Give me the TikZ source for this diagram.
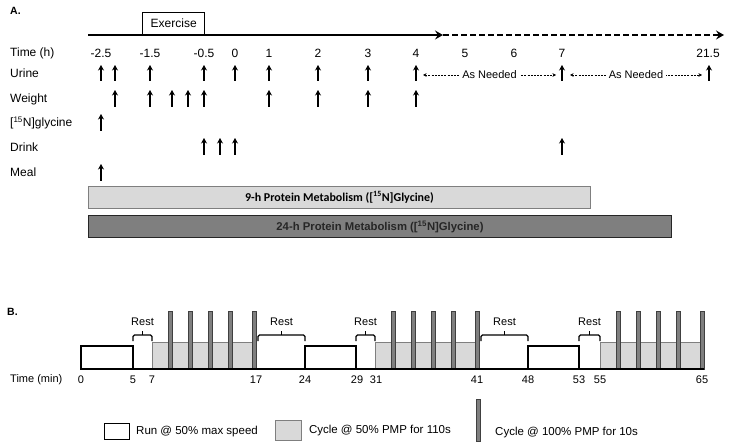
\documentclass[tikz,border=0pt]{standalone}
\usepackage{fontspec}
\setmainfont{Liberation Sans}
\newfontfamily\barfont{Carlito}
\usepackage{tikz}
\usetikzlibrary{positioning}
\usetikzlibrary{arrows.meta}
\definecolor{lightfill}{HTML}{D9D9D9}
\definecolor{darkfill}{HTML}{7F7F7F}
\definecolor{darkline}{HTML}{404040}
\tikzset{
    x=1pt, y=-1pt, % one unit is one pixel of the layout
    rowlabel/.style={ % labels on the left
        anchor=west, inner sep=0pt, font=\fontsize{12}{14}\selectfont
    },
    ticklabel/.style={inner sep=0pt, font=\fontsize{12}{14}\selectfont},
    minlabel/.style={inner sep=0pt, font=\fontsize{11}{13}\selectfont},
    partlabel/.style={anchor=west, inner sep=0pt, font=\bfseries\fontsize{10.5}{12}\selectfont},
    samplearrow/.style={ % sampling marks
        line width=1.4pt, -{Stealth[length=5.5pt,width=6pt]}
    },
    axisline/.style={line width=1.8pt, -{Stealth[length=8pt,width=9pt,inset=3pt]}},
    needed/.style={
        line width=0.6pt, dash pattern=on 2pt off 1.2pt,
        {Stealth[length=3.5pt,width=3.5pt]}-{Stealth[length=3.5pt,width=3.5pt]}
    },
    studybar/.style={anchor=north west, minimum height=22pt, inner sep=0pt},
    runbox/.style={draw, fill=white, line width=1.4pt},
    cyclebox/.style={draw=darkfill, fill=lightfill, line width=0.8pt},
    sprint/.style={draw=darkline, fill=darkfill, line width=0.7pt},
    restbrace/.style={line width=1.1pt, rounded corners=1.5pt},
    groundline/.style={line width=1.6pt},
    legendtext/.style={inner sep=0pt, font=\fontsize{11.5}{13}\selectfont}
}
\begin{document}
\begin{tikzpicture}
    \useasboundingbox (0,0) rectangle (744,446);

    % ---- A. ----
    \node[partlabel] (partA) at (10,11) {A.};
    \node[draw, line width=1.4pt, anchor=south west, minimum width=62pt, minimum height=22pt,
        inner sep=0pt, font=\fontsize{12}{14}\selectfont] (exercise) at (142,35) {Exercise};
    \coordinate (axisstart) at (88,35);
    \coordinate (axismid) at (443,35);
    \coordinate (axisend) at (724,35);
    \draw[axisline] (axisstart) -- (axismid);
    \draw[axisline, dash pattern=on 6pt off 3pt] (axismid) -- (axisend);

    \node[rowlabel] (time) at (10,53) {Time (h)};
    \node[rowlabel] (urine) at (10,73) {Urine};
    \node[rowlabel] (weight) at (10,99) {Weight};
    \node[rowlabel] (glycine) at (10,123) {[\textsuperscript{15}N]glycine};
    \node[rowlabel] (drink) at (10,147) {Drink};
    \node[rowlabel] (meal) at (10,172) {Meal};

    \foreach \x/\t in {101/-2.5, 150/-1.5, 204/-0.5, 235/0, 269/1, 318/2, 368/3,
        416/4, 465/5, 514/6, 562/7, 708/21.5}
        \node[ticklabel] (h\t) at (\x,53) {\t};

    \foreach \x in {101,115,150,204,235,269,318,368,416,562,709}
        \draw[samplearrow] (\x,81) -- (\x,65);
    \foreach \x in {115,150,172,188,204,269,318,368,416}
        \draw[samplearrow] (\x,107) -- (\x,90);
    \draw[samplearrow] (101,131) -- (101,114);
    \foreach \x in {204,220,235,562}
        \draw[samplearrow] (\x,155) -- (\x,138);
    \draw[samplearrow] (101,181) -- (101,164);

    \coordinate (need1a) at (423,75);
    \coordinate (need1b) at (556,75);
    \coordinate (need2a) at (570,75);
    \coordinate (need2b) at (702,75);
    \draw[needed] (need1a) -- node[fill=white, inner sep=3pt, font=\fontsize{11}{13}\selectfont] (asneeded1) {As Needed} (need1b);
    \draw[needed] (need2a) -- node[fill=white, inner sep=3pt, font=\fontsize{11}{13}\selectfont] (asneeded2) {As Needed} (need2b);

    \node[studybar, draw=darkfill, fill=lightfill, line width=1pt, minimum width=502pt,
        font=\barfont\bfseries\fontsize{12}{14}\selectfont] (nine) at (88,186)
        {9-h Protein Metabolism ([\textsuperscript{15}N]Glycine)};
    \node[studybar, draw=black!85, fill=darkfill, line width=1pt, minimum width=583pt,
        font=\bfseries\fontsize{11.3}{13}\selectfont, text=black!85] (full) at (88,215)
        {24-h Protein Metabolism ([\textsuperscript{15}N]Glycine)};

    % ---- B. ----
    \node[partlabel] (partB) at (7,312) {B.};
    \foreach \a/\b in {81/133, 305/356, 528/579}
        \draw[runbox] (\a,346) rectangle (\b,369);
    \foreach \a/\b in {152/254, 375/477, 600/702} {
        \draw[cyclebox] (\a,342) rectangle (\b,369);
        \foreach \k in {0,...,3}
            \draw[sprint] (\a+16+20*\k,311) rectangle +(4,58);
        \draw[sprint] (\b-2,311) rectangle (\b+2,369);
    }
    \draw[groundline] (81,369) -- (704,369);

    \foreach \a/\b in {133/152, 258/305, 356/375, 481/528, 579/600} {
        \draw[restbrace] (\a,341) -- (\a,335) -- (\b,335) -- (\b,341);
        \draw[line width=1.1pt] ({(\a+\b)/2},335) -- ++(0,-4);
        \node[minlabel] (rest\a) at ({(\a+\b)/2},322) {Rest};
    }

    \node[rowlabel, font=\fontsize{11}{13}\selectfont] (timemin) at (10,380) {Time (min)};
    \foreach \x/\t in {81/0, 133/5, 152/7, 256/17, 305/24, 357/29, 376/31,
        477/41, 528/48, 579/53, 600/55, 702/65}
        \node[minlabel] (m\t) at (\x,380) {\t};

    % legend
    \node[runbox, anchor=north west, minimum width=25pt, minimum height=16pt, inner sep=0pt] (legrun) at (104,423) {};
    \node[legendtext, anchor=west] (legruntext) at (136,432) {Run @ 50\% max speed};
    \node[cyclebox, anchor=north west, minimum width=26pt, minimum height=20pt, inner sep=0pt] (legcycle) at (275,420) {};
    \node[legendtext, right=7pt of legcycle] (legcycletext) {Cycle @ 50\% PMP for 110s};
    \node[sprint, anchor=north west, minimum width=4pt, minimum height=42pt, inner sep=0pt] (legsprint) at (476,399) {};
    \node[legendtext, anchor=west] (legsprinttext) at (495,433) {Cycle @ 100\% PMP for 10s};
\end{tikzpicture}
\end{document}
